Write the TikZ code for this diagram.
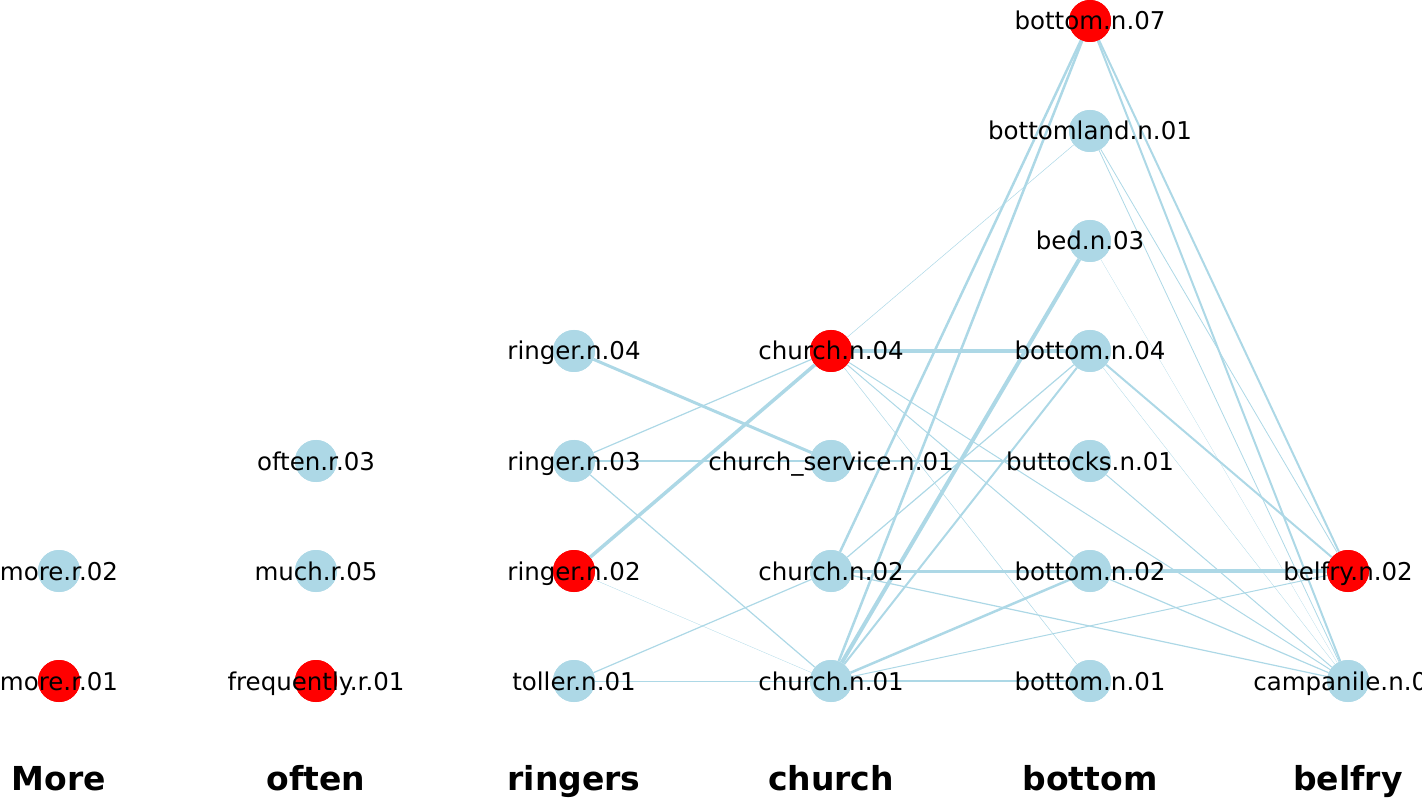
\documentclass[tikz,border=0pt]{standalone}
\usepackage{fontspec}
\setmainfont{DejaVu Sans}
\begin{document}
\begin{tikzpicture}[x=1pt,y=-1pt,
  blue/.style={circle,fill=lightblue,minimum size=42pt,inner sep=0pt},
  red/.style={circle,fill=red,minimum size=42pt,inner sep=0pt},
  lbl/.style={font=\fontsize{24.5}{26}\selectfont,text height=18pt,text depth=5pt,yshift=-2.5pt},
  head/.style={font=\fontsize{33}{36}\selectfont\bfseries,text height=24pt,text depth=7pt,yshift=-3pt},
  e/.style={draw=lightblue,line width=#1pt}]
\definecolor{lightblue}{RGB}{173,216,230}
\useasboundingbox (0,0) rectangle (1422,799);
\foreach \n/\x/\y/\s in {mr2/59/571/blue,mr1/59/681/red,of3/316/461/blue,mu5/316/571/blue,fr1/316/681/red,
 r4/574/351/blue,r3/574/461/blue,r2/574/571/red,to/574/681/blue,
 c4/831/351/red,cs/831/461/blue,c2/831/571/blue,c1/831/681/blue,
 b7/1090/21/red,bl/1090/131/blue,bd/1090/241/blue,b4/1090/351/blue,bu/1090/461/blue,b2/1090/571/blue,b1/1090/681/blue,
 be/1348/571/red,ca/1348/681/blue}
 \node[\s] (\n) at (\x,\y) {};
\draw[e=3] (r4)--(cs); \draw[e=1.2] (r3)--(c4); \draw[e=1.2] (r3)--(cs); \draw[e=1.2] (r3)--(c1);
\draw[e=3.5] (r2)--(c4); \draw[e=0.3] (r2)--(c1); \draw[e=1.2] (to)--(c2); \draw[e=0.2] (to)--(c1);
\draw[e=4] (c4)--(b4); \draw[e=0.5] (c4)--(bl); \draw[e=1] (c4)--(b2); \draw[e=1] (c4)--(ca); \draw[e=0.5] (c4)--(b1);
\draw[e=1.2] (cs)--(bu);
\draw[e=3] (c2)--(b2); \draw[e=2.5] (c2)--(b7); \draw[e=1.2] (c2)--(ca); \draw[e=1.2] (c2)--(b4);
\draw[e=2.5] (c1)--(b7); \draw[e=4] (c1)--(bd); \draw[e=2.5] (c1)--(b2); \draw[e=2] (c1)--(b1); \draw[e=1] (c1)--(be); \draw[e=2] (c1)--(b4);
\draw[e=2] (b7)--(be); \draw[e=2] (b7)--(ca); \draw[e=0.8] (bl)--(be); \draw[e=0.8] (bl)--(ca);
\draw[e=2] (b4)--(be); \draw[e=0.3] (b4)--(ca); \draw[e=1] (bu)--(ca); \draw[e=3.5] (b2)--(be); \draw[e=1.2] (b2)--(ca); \draw[e=0.2] (bd)--(ca);
\foreach \n/\x/\y/\s in {mr2/59/571/blue,mr1/59/681/red,of3/316/461/blue,mu5/316/571/blue,fr1/316/681/red,
 r4/574/351/blue,r3/574/461/blue,r2/574/571/red,to/574/681/blue,
 c4/831/351/red,cs/831/461/blue,c2/831/571/blue,c1/831/681/blue,
 b7/1090/21/red,bl/1090/131/blue,bd/1090/241/blue,b4/1090/351/blue,bu/1090/461/blue,b2/1090/571/blue,b1/1090/681/blue,
 be/1348/571/red,ca/1348/681/blue}
 \node[\s] at (\x,\y) {};
\foreach \t/\x/\y in {more.r.02/59/571,more.r.01/59/681,often.r.03/316/461,much.r.05/316/571,frequently.r.01/316/681,
 ringer.n.04/574/351,ringer.n.03/574/461,ringer.n.02/574/571,toller.n.01/574/681,
 church.n.04/831/351,church\_service.n.01/831/461,church.n.02/831/571,church.n.01/831/681,
 bottom.n.07/1090/21,bottomland.n.01/1090/131,bed.n.03/1090/241,bottom.n.04/1090/351,buttocks.n.01/1090/461,bottom.n.02/1090/571,bottom.n.01/1090/681,
 belfry.n.02/1348/571,campanile.n.01/1348/681}
 \node[lbl] (l-\x-\y) at (\x,\y) {\t};
\foreach \t/\x in {More/59,often/316,ringers/574,church/831,bottom/1090,belfry/1348}
 \node[head] (h-\x) at (\x,779) {\t};
\end{tikzpicture}
\end{document}
